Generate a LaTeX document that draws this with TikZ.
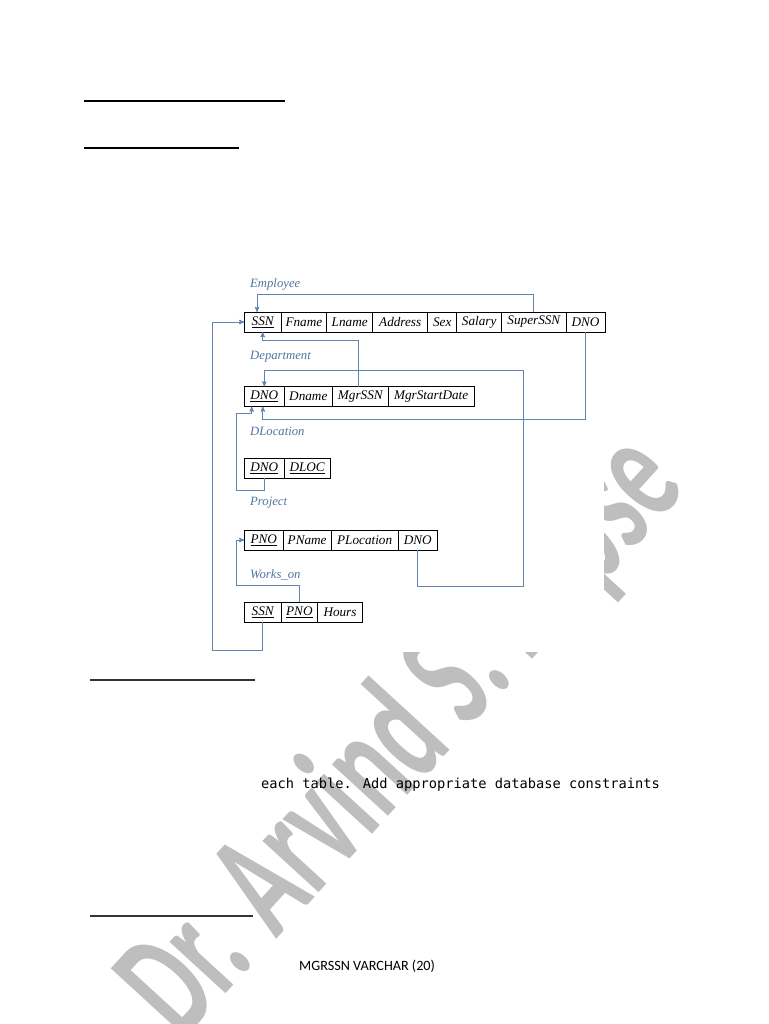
\documentclass[tikz,border=0pt]{standalone}
\usepackage{fontspec}
\setmainfont{Liberation Serif}
\newfontfamily\calibri{Carlito}
\newfontfamily\consolas{DejaVu Sans Mono}
\usetikzlibrary{positioning,arrows}

\definecolor{linkblue}{RGB}{96,132,176}
\definecolor{labelblue}{RGB}{82,116,160}
\definecolor{markgray}{RGB}{190,190,190}

\begin{document}
\begin{tikzpicture}[x=1pt,y=-1pt,node distance=0pt,
    field/.style={draw,line width=.6pt,minimum height=20pt,inner sep=0pt,outer sep=0pt,
                  font=\fontsize{13.2}{15}\selectfont\itshape},
    tname/.style={anchor=west,inner sep=0pt,text=labelblue,
                  font=\fontsize{12.7}{15}\selectfont\itshape},
    fk/.style={->,>=stealth',draw=linkblue,line width=.9pt}]

  \useasboundingbox (0,0) rectangle (768,1024);
  \fill[white] (0,0) rectangle (768,1024);

  % watermark, partly hidden behind the pasted diagram
  \node[rotate=47.5,yscale=1.65,anchor=base west,inner sep=0pt,text=markgray,
        font=\calibri\bfseries\fontsize{95}{95}\selectfont] (mark) at (182,1042) {Dr. Arvind S. Kapse};
  \fill[white] (200,268) rectangle (604,652);

  % page rules and text
  \draw[line width=2pt] (84,101) -- (285,101);
  \draw[line width=2pt] (84,148) -- (239,148);
  \draw[line width=1.5pt,black!80] (90,680) -- (255,680);
  \draw[line width=1.5pt,black!80] (90,916) -- (253,916);
  \node[anchor=west,inner sep=0pt,font=\consolas\fontsize{13.7}{16}\selectfont] (note) at (261,785)
       {each table. Add appropriate database constraints};
  \node[anchor=west,inner sep=0pt,font=\calibri\fontsize{14.2}{17}\selectfont] (mgrtype) at (299,966)
       {MGRSSN VARCHAR (20)};

  % Employee
  \node[tname] (empLbl) at (250,284) {Employee};
  \node[field,minimum width=36.7pt,anchor=west] (eSSN) at (244.3,322) {\underline{SSN}};
  \node[field,minimum width=45.7pt,right=of eSSN]   (eFname) {Fname};
  \node[field,minimum width=46pt,right=of eFname]   (eLname) {Lname};
  \node[field,minimum width=55pt,right=of eLname]   (eAddr)  {Address};
  \node[field,minimum width=29pt,right=of eAddr]    (eSex)   {Sex};
  \node[field,minimum width=45pt,right=of eSex]     (eSal)   {Salary};
  \node[field,minimum width=64.3pt,right=of eSal]   (eSuper) {SuperSSN};
  \node[field,minimum width=39pt,right=of eSuper]   (eDNO)   {DNO};

  % Department
  \node[tname] (depLbl) at (250,357) {Department};
  \node[field,minimum width=40pt,anchor=west] (dDNO) at (244.3,396.5) {\underline{DNO}};
  \node[field,minimum width=48pt,right=of dDNO]     (dName)  {Dname};
  \node[field,minimum width=56pt,right=of dName]    (dMgr)   {MgrSSN};
  \node[field,minimum width=85.7pt,right=of dMgr]   (dStart) {MgrStartDate};

  % DLocation
  \node[tname] (locLbl) at (250,431) {DLocation};
  \node[field,minimum width=40pt,anchor=west] (lDNO) at (244.3,468) {\underline{DNO}};
  \node[field,minimum width=45.7pt,right=of lDNO]   (lLOC)   {\underline{DLOC}};

  % Project
  \node[tname] (prjLbl) at (250,503) {Project};
  \node[field,minimum width=39pt,anchor=west] (pPNO) at (244.3,540) {\underline{PNO}};
  \node[field,minimum width=47.7pt,right=of pPNO]   (pName)  {PName};
  \node[field,minimum width=67.3pt,right=of pName]  (pLoc)   {PLocation};
  \node[field,minimum width=39pt,right=of pLoc]     (pDNO)   {DNO};

  % Works_on
  \node[tname] (wrkLbl) at (250,575) {Works\_on};
  \node[field,minimum width=36.7pt,anchor=west] (wSSN) at (244.3,612) {\underline{SSN}};
  \node[field,minimum width=36.7pt,right=of wSSN]   (wPNO)   {\underline{PNO}};
  \node[field,minimum width=44.6pt,right=of wPNO]   (wHours) {Hours};

  % bends of the foreign key lines
  \coordinate (dRight) at (523,370);
  \coordinate (lBend)  at (236,413);
  \coordinate (wLow)   at (212,650);
  \coordinate (wUp)    at (236,585.5);

  \draw[fk] (eSuper.north) -- ++(0,-18) -| ([xshift=-5.6]eSSN.north);
  \draw[fk] ([xshift=-2]dMgr.north) -- ++(0,-46) -| (eSSN.south);
  \draw[fk] (eDNO.south) -- ++(0,87) -| ([xshift=-1.5]dDNO.south);
  \draw[fk] (pDNO.south) -- ++(0,36) -| (dRight) -| (dDNO.north);
  \draw[fk] (lDNO.south) -- ++(0,12) -| (lBend) -| ([xshift=-12.6]dDNO.south);
  \draw[fk] (wSSN.south) |- (wLow) |- (eSSN.west);
  \draw[fk] (wPNO.north) |- (wUp) |- (pPNO.west);
\end{tikzpicture}
\end{document}
